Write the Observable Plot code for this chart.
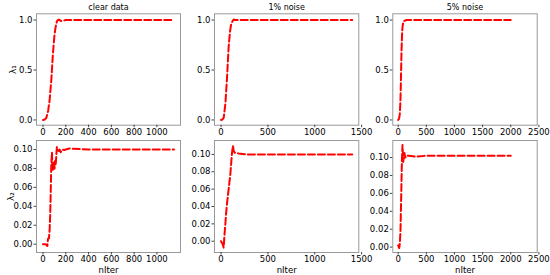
<!DOCTYPE html>
<html>
<head>
<meta charset="utf-8">
<script src="https://cdn.jsdelivr.net/npm/d3@7"></script>
<script src="https://cdn.jsdelivr.net/npm/@observablehq/plot@0.6"></script>
<style>
  html, body { margin: 0; padding: 0; background: white; }
  #chart { position: relative; width: 550px; height: 275px; overflow: hidden; }
  #chart svg { position: absolute; left: 0; top: 0; }
</style>
</head>
<body>
<div id="chart"></div>
<script>
// ---- data ----
const titles = ["clear data", "1% noise", "5% noise"];
const yLabels = ["λ₁", "λ₂"];
const xLabel = "nIter";

const clearIterL1 = [0, 15, 29, 45, 58, 73, 87, 100, 108, 118, 125, 140, 160, 200, 400, 700, 1000, 1150];
const clearL1     = [0, 0.005, 0.02, 0.09, 0.195, 0.40, 0.66, 0.84, 0.91, 0.97, 0.995, 1.005, 0.99, 1.0, 1.0, 1.0, 1.0, 1.0];

const noise1IterL1 = [0, 15, 28, 46, 64, 81, 95, 106, 120, 134, 150, 200, 500, 1000, 1400];
const noise1L1     = [0, 0.005, 0.02, 0.16, 0.43, 0.73, 0.88, 0.95, 0.985, 1.005, 1.0, 1.0, 1.0, 1.0, 1.0];

const noise5IterL1 = [0, 15, 29, 40, 47, 59, 68, 76, 88, 100, 125, 150, 300, 1000, 2000];
const noise5L1     = [0, 0.01, 0.06, 0.2, 0.36, 0.69, 0.85, 0.93, 0.97, 0.99, 0.995, 1.0, 1.0, 1.0, 1.0];

const clearIterL2 = [0, 15, 29, 38, 44, 52, 58, 63, 67, 73, 79, 82, 87, 92, 96, 102, 107, 111, 116, 122, 130, 137, 145, 155, 170, 186, 230, 400, 700, 1000, 1150];
const clearL2     = [0, 0, -0.0006, -0.002, 0.0057, 0.006, 0.0145, 0.03, 0.05, 0.085, 0.097, 0.078, 0.086, 0.079, 0.087, 0.08, 0.088, 0.083, 0.092, 0.1025, 0.099, 0.0985, 0.1, 0.097, 0.1, 0.0995, 0.101, 0.1, 0.1, 0.1, 0.1];

const noise1IterL2 = [0, 10, 18, 28, 35, 46, 53, 65, 81, 99, 108, 117, 127, 135, 145, 165, 188, 230, 277, 400, 700, 1000, 1400];
const noise1L2     = [0, -0.002, -0.0035, -0.0074, 0.005, 0.02, 0.031, 0.045, 0.06, 0.077, 0.09, 0.102, 0.11, 0.104, 0.102, 0.1015, 0.101, 0.1005, 0.1, 0.1, 0.1, 0.1, 0.1];

const noise5IterL2 = [0, 10, 18, 29, 41, 53, 65, 72, 77, 83, 88, 100, 112, 125, 142, 165, 190, 300, 500, 1000, 2000];
const noise5L2     = [0.002, 0.0, -0.001, 0.004, 0.019, 0.056, 0.094, 0.108, 0.114, 0.105, 0.095, 0.1, 0.105, 0.1, 0.1, 0.102, 0.102, 0.101, 0.102, 0.102, 0.102];

const xTicksCols = [[0, 200, 400, 600, 800, 1000], [0, 500, 1000, 1500], [0, 500, 1000, 1500, 2000, 2500]];
const yTicksRows = [[0, 0.5, 1.0], [0, 0.02, 0.04, 0.06, 0.08, 0.10]];

// ---- layout ----
const W = 550, H = 275;
const cols = [[36, 180], [214, 358.3], [392.3, 536.7]];
const rows = [[13.3, 124.7], [140, 252]];
const xDomains = [[-57, 1207], [-70, 1470], [-96, 2470]];
const yDomains = [[[-0.0525, 1.0625], [-0.0525, 1.0625], [-0.0525, 1.0625]],
                  [[-0.0088, 0.1095], [-0.013, 0.116], [-0.006, 0.119]]];

const series = [
  [[clearIterL1, clearL1], [noise1IterL1, noise1L1], [noise5IterL1, noise5L1]],
  [[clearIterL2, clearL2], [noise1IterL2, noise1L2], [noise5IterL2, noise5L2]]
];

const chart = document.getElementById("chart");
const font = "DejaVu Sans";

for (let r = 0; r < 2; r++) {
  for (let c = 0; c < 3; c++) {
    const [xs, ys] = series[r][c];
    const data = xs.map((x, i) => ({x, y: ys[i]}));
    const marks = [
      Plot.frame({stroke: "#999", strokeWidth: 1}),
      Plot.axisX({ticks: xTicksCols[c], tickSize: 2.5, tickPadding: 1, fontSize: 8.5, label: null, stroke: "#444", tickFormat: d3.format("d")}),
      Plot.axisY({ticks: yTicksRows[r], tickSize: 2.5, tickPadding: 1.5, fontSize: 8.5, label: null, stroke: "#444",
                  tickFormat: r === 0 ? d3.format(".1f") : d3.format(".2f")}),
      Plot.line(data, {x: "x", y: "y", stroke: "red", strokeWidth: 2, strokeDasharray: "7,3"})
    ];
    if (r === 0) {
      marks.push(Plot.text([titles[c]], {text: d => d, frameAnchor: "top", dy: -6.5, lineAnchor: "middle", textAnchor: "middle", fontSize: 8, fill: "black"}));
    }
    if (c === 0) {
      marks.push(Plot.text([yLabels[r]], {text: d => d, frameAnchor: "left", dx: r === 0 ? -23 : -25, rotate: -90, lineAnchor: "middle", textAnchor: "middle", fontSize: 9, fill: "black"}));
    }
    if (r === 1) {
      marks.push(Plot.text([xLabel], {text: d => d, frameAnchor: "bottom", dy: 17.5, lineAnchor: "middle", textAnchor: "middle", fontSize: 8.5, fill: "black"}));
    }
    const p = Plot.plot({
      width: W, height: H,
      marginLeft: cols[c][0], marginRight: W - cols[c][1],
      marginTop: rows[r][0], marginBottom: H - rows[r][1],
      style: {fontFamily: font, fontSize: "8.5px", background: "transparent", color: "black", overflow: "visible"},
      x: {domain: xDomains[c], label: null},
      y: {domain: yDomains[r][c], label: null},
      marks
    });
    chart.appendChild(p);
  }
}
</script>
</body>
</html>
